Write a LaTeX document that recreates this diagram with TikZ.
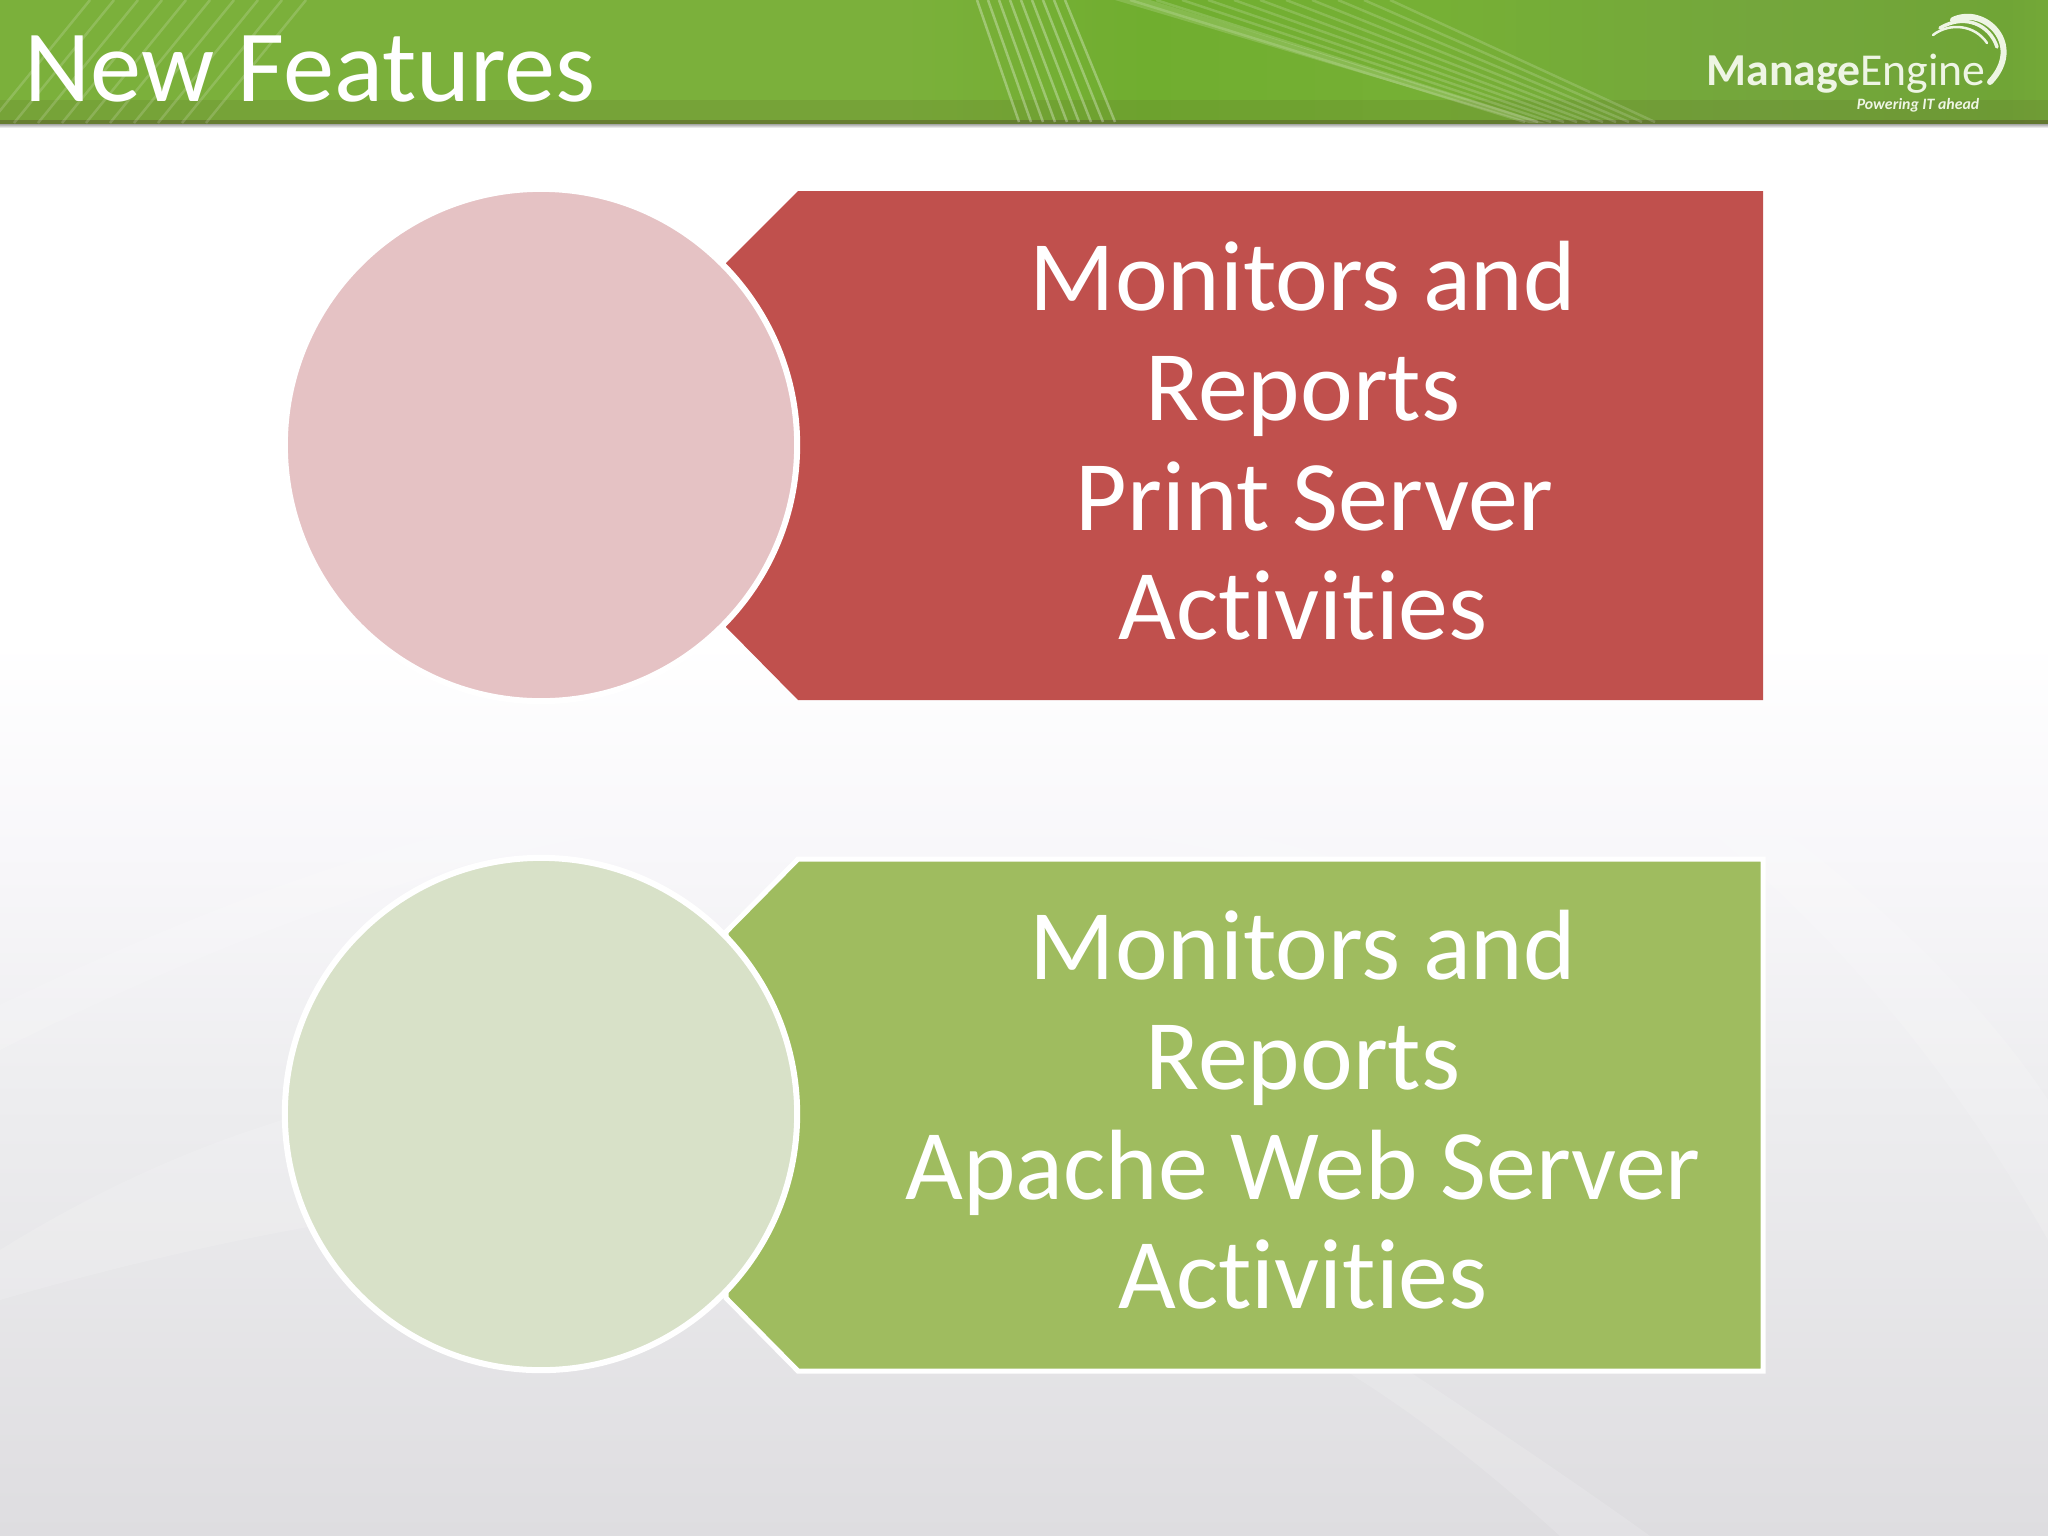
\documentclass[tikz,border=0pt]{standalone}
\usepackage{fontspec}
\setmainfont{Carlito}[Ligatures=NoCommon]
\definecolor{headA}{HTML}{7BB03B}
\definecolor{headB}{HTML}{70AE2F}
\definecolor{headC}{HTML}{76B035}
\definecolor{headD}{HTML}{74A63C}
\definecolor{headE}{HTML}{70A536}
\definecolor{redbox}{HTML}{C0504D}
\definecolor{redlight}{HTML}{E5C2C4}
\definecolor{greenbox}{HTML}{9FBC5F}
\definecolor{greenlight}{HTML}{D8E1C8}
\definecolor{pageA}{HTML}{F8F7FA}
\definecolor{pageB}{HTML}{EDEDEF}
\definecolor{pageC}{HTML}{DEDDE0}
\definecolor{logotext}{HTML}{EEF5E4}
\pgfdeclarehorizontalshading{headband}{100bp}{
  color(0bp)=(headA); color(47bp)=(headA); color(53bp)=(headB); color(60bp)=(headC);
  color(68bp)=(headD); color(74bp)=(headE); color(77bp)=(headA); color(90bp)=(headE); color(100bp)=(headA)}
\tikzset{
  bodytext/.style={text=white,align=center,font=\fontsize{28.4}{31.2}\selectfont},
  swoosh/.style={white,opacity=0.14},
  headline/.style={white,opacity=0.16,line width=0.25mm},
  logoarc/.style={logotext,line cap=round}
}
\begin{document}
\begin{tikzpicture}[x=0.01cm,y=-0.01cm]
    \useasboundingbox (0,0) rectangle (2048,1536);
    % page background
    \fill[white] (0,0) rectangle (2048,640);
    \shade[top color=white,bottom color=pageA] (0,640) rectangle (2048,850);
    \shade[top color=pageA,bottom color=pageB] (0,850) rectangle (2048,1100);
    \shade[top color=pageB,bottom color=pageC] (0,1100) rectangle (2048,1536);
    \fill[swoosh] (0,1005) .. controls (300,860) and (560,785) .. (790,785)
        .. controls (1150,785) and (1500,860) .. (1750,1090)
        .. controls (1500,880) and (1150,810) .. (790,815) .. controls (560,820) and (300,900) .. (0,1050);
    \fill[swoosh] (1420,650) .. controls (1700,720) and (1950,950) .. (2048,1100)
        -- (2048,1240) .. controls (1900,980) and (1700,780) .. (1420,650);
    \fill[swoosh] (0,1250) .. controls (400,1000) and (900,1000) .. (1300,1300)
        .. controls (1500,1430) and (1600,1500) .. (1650,1536) -- (1560,1536)
        .. controls (1300,1300) and (900,1040) .. (0,1300);
    % header band
    \shade[shading=headband] (0,0) rectangle (2048,123);
    \fill[black!45!olive,opacity=0.14] (0,100) rectangle (2048,120);
    \fill[black!50!olive,opacity=0.55] (0,120) rectangle (2048,124);
    \shade[top color=black!35!white,bottom color=white] (0,124) rectangle (2048,128);
    \foreach \i in {0,...,9}
        \draw[headline] (-10+\i*24,123)--(90+\i*24,0);
    \foreach \i in {0,...,8}
        \draw[headline,opacity=0.3] (977+\i*11,0)--(1019+\i*12,122);
    \fill[white,opacity=0.15] (1115,0)--(1150,0)--(1545,123)--(1529,123)--cycle;
    \foreach \i in {0,...,10}
        \draw[headline] (1130+\i*26,0)--(1525+\i*13,122);
    % logo
    \draw[logoarc,line width=0.25mm] (1933,35) .. controls (1950,22) and (1975,25) .. (1987,43);
    \draw[logoarc,line width=0.35mm] (1940,28) .. controls (1965,13) and (1990,25) .. (1997,47);
    \draw[logoarc,line width=0.6mm] (1953,20) .. controls (1985,5) and (2025,45) .. (1990,82);
    \node[anchor=base west,inner sep=0pt,text=logotext,font=\fontsize{13}{13}\selectfont] (logoname) at (1706,85) {\textbf{Manage}Engine};
    \node[anchor=base east,inner sep=0pt,text=logotext,font=\fontsize{4.5}{4.5}\selectfont\itshape\bfseries] (tagline) at (1980,109) {Powering IT ahead};
    \node[anchor=base west,inner sep=0pt,text=white,font=\fontsize{29.1}{29.1}\selectfont] (title) at (24,101) {New Features};
    % top pair
    \draw[fill=redbox,draw=none] (798,191)--(1763,191)--(1763,700)--(798,700)--(726,627)--(726,263)--cycle;
    \node[circle,fill=redlight,draw=white,line width=0.06cm,minimum size=5.12cm,inner sep=0pt] (redcircle) at (541,445) {};
    \node[bodytext] (redtext) at (1303,441) {Monitors and\\Reports\\\hspace*{0.226em}Print Server\\Activities};
    % bottom pair
    \draw[fill=greenbox,draw=white,line width=0.05cm] (798,859)--(1763,859)--(1763,1371)--(798,1371)--(726,1298)--(726,932)--cycle;
    \node[circle,fill=greenlight,draw=white,line width=0.06cm,minimum size=5.12cm,inner sep=0pt] (greencircle) at (541,1114) {};
    \node[bodytext] (greentext) at (1303,1110) {Monitors and\\Reports\\Apache Web Server\\Activities};
\end{tikzpicture}
\end{document}
